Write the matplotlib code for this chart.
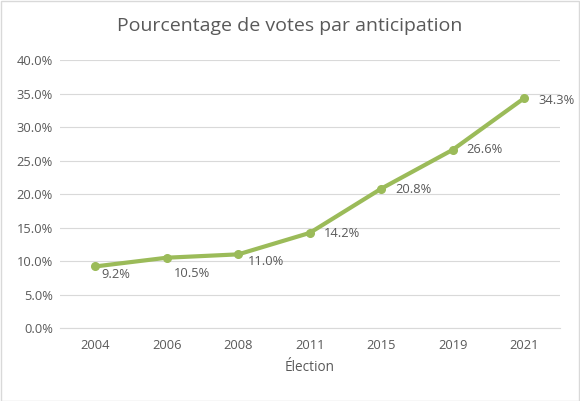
import matplotlib
matplotlib.use("Agg")
import matplotlib.pyplot as plt
from matplotlib.ticker import FuncFormatter, MultipleLocator
from matplotlib.patches import Rectangle

years = ["2004", "2006", "2008", "2011", "2015", "2019", "2021"]
values = [9.2, 10.5, 11.0, 14.2, 20.8, 26.6, 34.3]
labels = ["9.2%", "10.5%", "11.0%", "14.2%", "20.8%", "26.6%", "34.3%"]

plt.rcParams['font.family'] = ['Open Sans', 'DejaVu Sans']
txt = '#595959'
green = '#9BBB59'

# label offsets in pixels (right, down)
label_offsets_px = [(6, 8), (7, 16), (10, 7), (14, 1), (14, 1), (14, 0), (14, 2)]

fig = plt.figure(figsize=(5.8, 4.01), dpi=100)
ax = fig.add_axes([0.103, 0.182, 0.862, 0.668])
x = list(range(len(years)))
ax.plot(x, values, color=green, lw=3, marker='o', ms=5.5, solid_capstyle='round', zorder=3)
for xi, v, l, (dx, dy) in zip(x, values, labels, label_offsets_px):
    ax.annotate(l, (xi, v), xytext=(dx * 0.72, -dy * 0.72), textcoords='offset points',
                ha='left', va='center', fontsize=9.3, color=txt)

ax.set_xlim(-0.5, len(years) - 0.5)
ax.set_ylim(0, 40)
ax.yaxis.set_major_locator(MultipleLocator(5))
ax.yaxis.set_major_formatter(FuncFormatter(lambda v, p: f"{v:.1f}%"))
ax.set_xticks(x)
ax.set_xticklabels(years)
ax.grid(axis='y', color='#D9D9D9', lw=0.8)
ax.set_axisbelow(True)
for s in ['top', 'right', 'left']:
    ax.spines[s].set_visible(False)
ax.spines['bottom'].set_color('#D9D9D9')
ax.tick_params(axis='both', length=0, colors=txt, labelsize=9.3, pad=8)
ax.tick_params(axis='y', pad=5)
ax.set_xlabel("Élection", color=txt, fontsize=9.8, labelpad=6)
fig.text(0.5, 0.935, "Pourcentage de votes par anticipation", ha='center', va='center',
         fontsize=14, color=txt)
fig.patches.append(Rectangle((0.001, 0.001), 0.997, 0.997, transform=fig.transFigure,
                             fill=False, edgecolor='#D9D9D9', lw=1))
fig.savefig("out.png", dpi=100)
